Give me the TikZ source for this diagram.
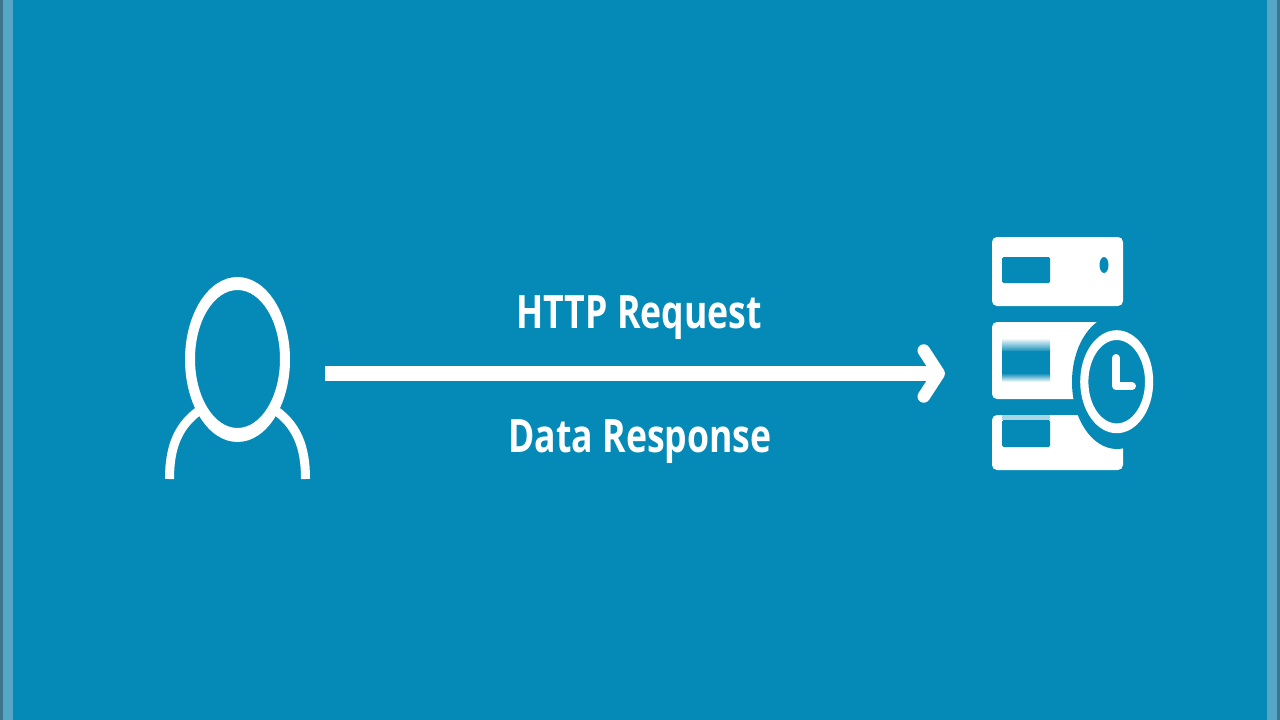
\documentclass[tikz,border=0pt]{standalone}
\usepackage{fontspec}
\setmainfont{Open Sans}
\usetikzlibrary{arrows.meta}
\definecolor{bgblue}{HTML}{0589B6}
\definecolor{edgeblue}{HTML}{56A6C8}
\newcommand{\narrowtext}[1]{\scalebox{.775}[1]{#1}}
\tikzset{
    icon/.style={draw=white,line width=#1},
    ring/.style={fill=white,even odd rule},
    solid box/.style={fill=white,rounded corners=5pt},
    slot/.style={fill=bgblue,rounded corners=1.5pt},
    label/.style={text=white,font=\fontsize{46}{50}\selectfont\bfseries,anchor=base,inner sep=0pt}
}
\begin{document}
\begin{tikzpicture}[x=1pt,y=-1pt]
    \fill[bgblue] (0,0) rectangle (1280,720);
    \useasboundingbox (0,0) rectangle (1280,720);
    \fill[edgeblue] (3,0) rectangle (13,720);
    \fill[edgeblue!70!black] (0,0) rectangle (3,720);
    \fill[edgeblue] (1267,0) rectangle (1277,720);
    \fill[edgeblue!70!black] (1277,0) rectangle (1280,720);
    % user
    \draw[icon=9pt] (169.5,479) .. controls (169.5,447) and (178,424) .. (203,408);
    \draw[icon=9pt] (305.5,479) .. controls (305.5,447) and (297,424) .. (272,408);
    \fill[bgblue] (237.5,359.5) ellipse [x radius=50,y radius=80];
    \fill[ring] (237.5,359.5) ellipse [x radius=52.5,y radius=82.5]
        (237.5,359) ellipse [x radius=42.5,y radius=69];
    % arrow and labels
    \coordinate (client) at (325,373.5);
    \coordinate (server) at (945,373.5);
    \draw[draw=white,line width=15pt,-{Straight Barb[length=15pt,width=46pt,round,line width=12.5pt]}] (client) -- (server);
    \node[label] (request) at (639,328) {\narrowtext{HTTP Request}};
    \node[label] (response) at (640,452) {\narrowtext{Data Response}};
    % server
    \fill[solid box] (992,237) rectangle (1123,306);
    \fill[solid box] (992,322) rectangle (1123,399);
    \fill[solid box] (992,415) rectangle (1123,470);
    \fill[slot] (1002,257) rectangle (1050,283);
    \fill[bgblue] (1104,265) ellipse [x radius=4.5,y radius=8];
    \shade[top color=white,bottom color=bgblue] (1002,338) rectangle (1050,352);
    \fill[bgblue] (1002,351) rectangle (1050,374);
    \shade[top color=bgblue,bottom color=white] (1002,373) rectangle (1050,382);
    \fill[bgblue!35!white] (1002,415) rectangle (1050,420);
    \fill[slot] (1002,420) rectangle (1050,447);
    % clock
    \fill[bgblue] (1117,382) ellipse [x radius=45,y radius=67];
    \fill[ring] (1116.7,381.7) ellipse [x radius=36.5,y radius=51.5]
        (1116.7,381.7) ellipse [x radius=28.3,y radius=41.7];
    \draw[icon=8pt,line cap=round,line join=round] (1116,358) -- (1116,386) -- (1132,386);
\end{tikzpicture}
\end{document}
